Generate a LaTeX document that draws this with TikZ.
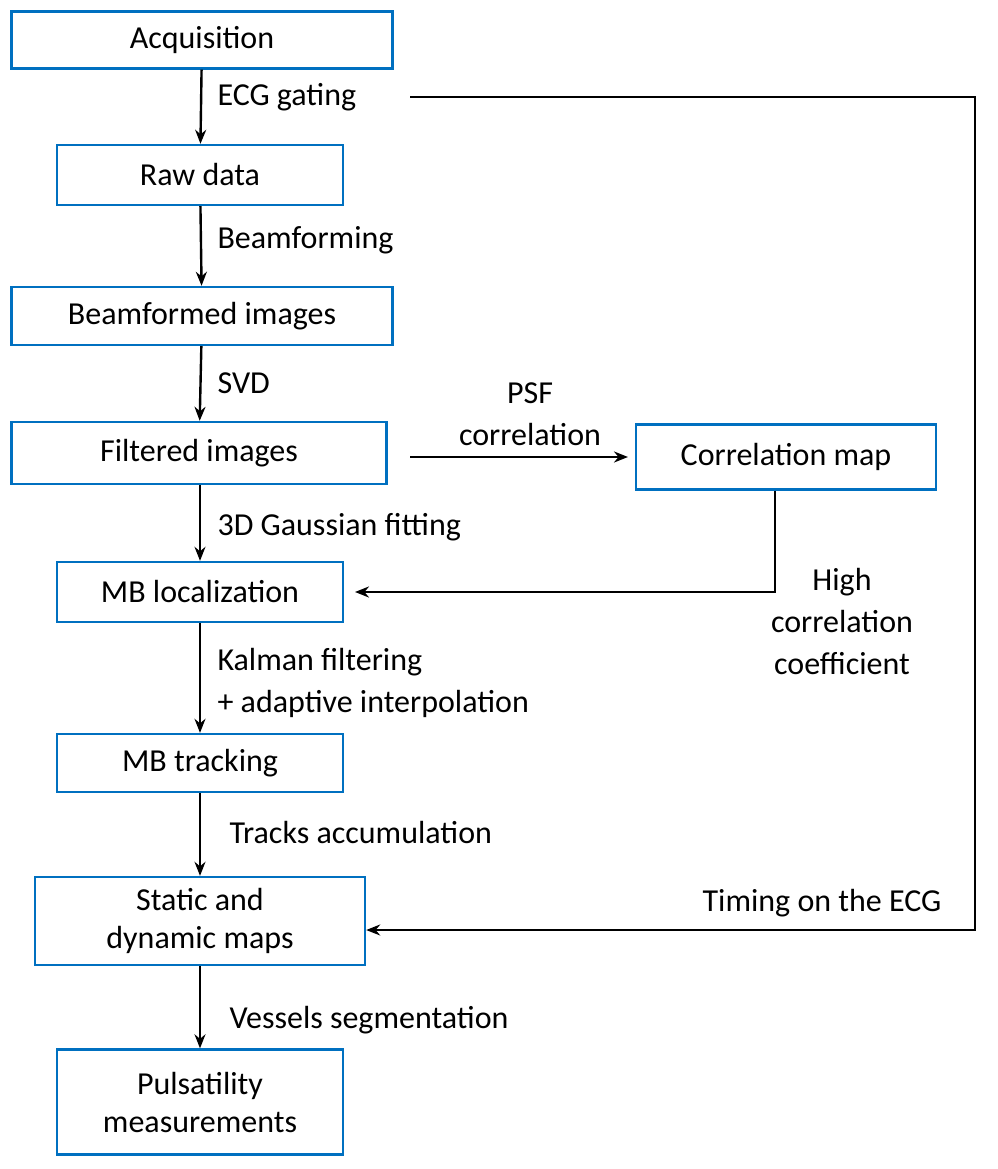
\documentclass[tikz,border=0pt]{standalone}
\usepackage{fontspec}
\setmainfont{Carlito}
\usetikzlibrary{arrows.meta}
\definecolor{bx}{RGB}{0,112,192}
\begin{document}
\begin{tikzpicture}[x=1pt,y=-1pt,
  box/.style={draw=bx,line width=2.4pt,inner sep=0pt,align=center,font=\fontsize{32}{38}\selectfont},
  lab/.style={font=\fontsize{32}{42}\selectfont,align=left},
  arr/.style={-{Stealth[length=14pt,width=11pt]},line width=2.4pt}]
\useasboundingbox (0,0) rectangle (997,1169);
\node[box,minimum width=381pt,minimum height=57pt] (acq) at (202,40) {Acquisition};
\node[box,minimum width=286pt,minimum height=60pt] (raw) at (200,175) {Raw data};
\node[box,minimum width=381pt,minimum height=58pt] (bf) at (202,316) {Beamformed images};
\node[box,minimum width=375pt,minimum height=62pt] (fi) at (199,453) {Filtered images};
\node[box,minimum width=300pt,minimum height=65pt] (cm) at (786,457) {Correlation map};
\node[box,minimum width=286pt,minimum height=60pt] (loc) at (200,592) {MB localization};
\node[box,minimum width=286pt,minimum height=58pt] (trk) at (200,763) {MB tracking};
\node[box,minimum width=330pt,minimum height=88pt] (maps) at (200,921) {Static and\\dynamic maps};
\node[box,minimum width=286pt,minimum height=105pt] (pul) at (200,1102) {Pulsatility\\measurements};
\draw[arr] (acq) -- (raw);
\draw[arr] (raw) -- (bf);
\draw[arr] (bf) -- (fi);
\draw[arr] (fi.south -| loc) -- (loc);
\draw[arr] (loc) -- (trk);
\draw[arr] (trk) -- (maps);
\draw[arr] (maps) -- (pul);
\node[lab,anchor=west] (l1) at (214,97) {ECG gating};
\node[lab,anchor=west] (l2) at (214,240) {Beamforming};
\node[lab,anchor=west] (l3) at (214,383) {SVD};
\node[lab,anchor=west] (l4) at (214,527) {3D Gaussian fitting};
\node[lab,anchor=west] (l5) at (214,683) {Kalman filtering\\+ adaptive interpolation};
\node[lab,anchor=west] (l6) at (226,832) {Tracks accumulation};
\node[lab,anchor=west] (l7) at (226,1020) {Vessels segmentation};
\node[lab,align=center] (l8) at (530,414) {PSF\\correlation};
\node[lab,align=center] (l9) at (842,622) {High\\correlation\\coefficient};
\node[lab] (l10) at (822,903) {Timing on the ECG};
\coordinate (g1) at (410,97);
\coordinate (g2) at (975,97);
\coordinate (g3) at (975,930);
\coordinate (f1) at (410,457);
\coordinate (f2) at (628,457);
\coordinate (m1) at (775,592);
\coordinate (m2) at (355,592);
\draw[arr] (g1) -- (g2) -- (g3) -- (maps.east |- g3);
\draw[arr] (f1) -- (f2);
\draw[arr] (cm.south -| m1) -- (m1) -- (m2);
\end{tikzpicture}
\end{document}
